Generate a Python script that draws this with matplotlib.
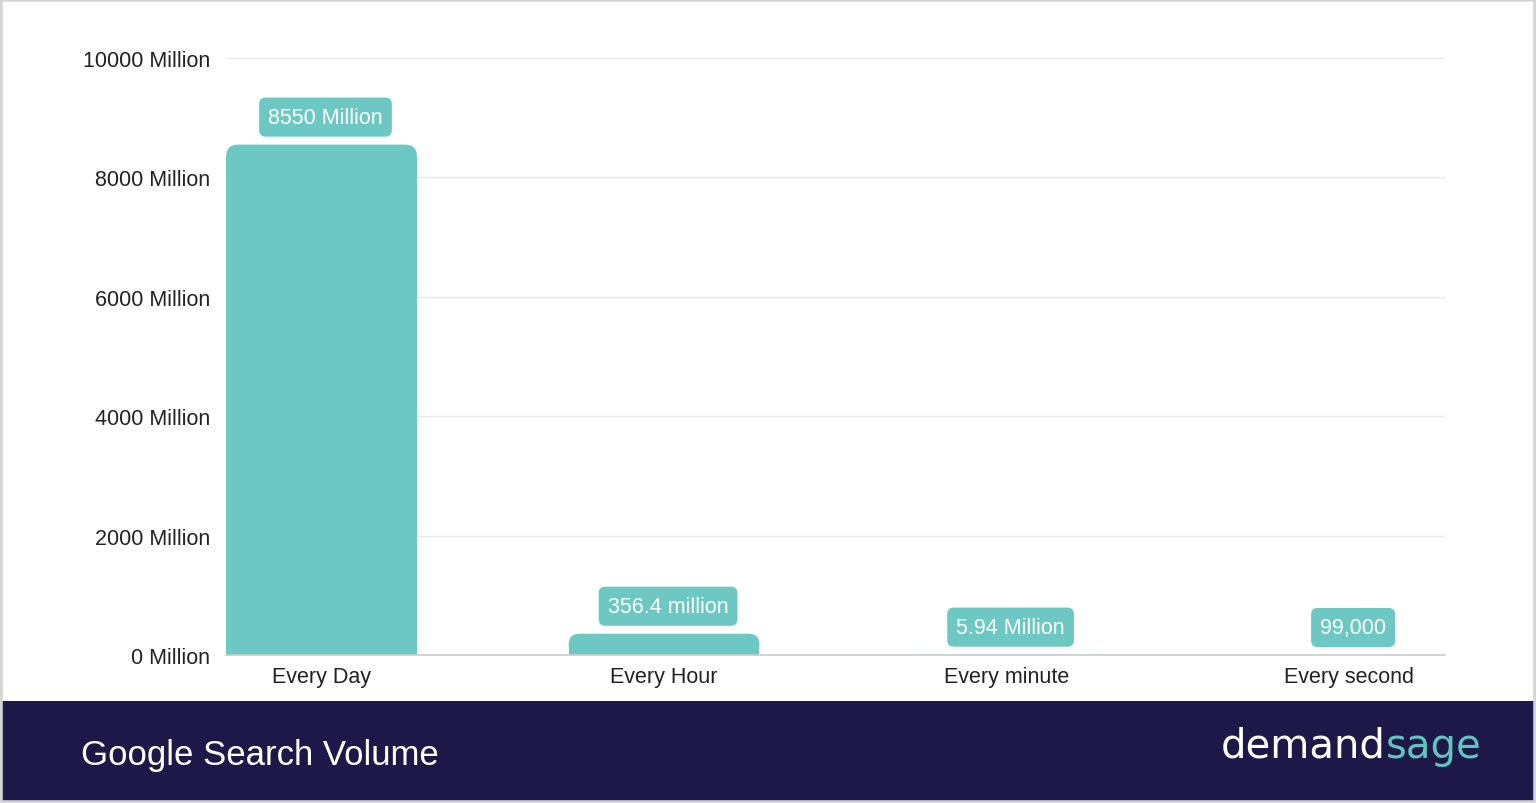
import matplotlib.pyplot as plt
from matplotlib.patches import FancyBboxPatch, Rectangle

plt.rcParams['font.family'] = ['Liberation Sans', 'DejaVu Sans']

categories = ['Every Day', 'Every Hour', 'Every minute', 'Every second']
searches_million = [8550, 356.4, 5.94, 0.099]
value_labels = ['8550 Million', '356.4 million', '5.94 Million', '99,000']
yticks = [0, 2000, 4000, 6000, 8000, 10000]
ytick_labels = [f'{t} Million' for t in yticks]

teal = '#6dc8c3'
navy = '#1e1848'

fig = plt.figure(figsize=(15.36, 8.04), dpi=100)
ax = fig.add_axes([0.1471, 0.1841, 0.7937, 0.7425])

ax.set_xlim(-0.279, 3.28)
ax.set_ylim(0, 10000)

# rounded-top bars, radius given in pixels
bar_w = 0.557
p0 = ax.transData.transform((0, 0))
p1 = ax.transData.transform((1, 1))
px_x = 1 / (p1[0] - p0[0])   # data x per pixel
px_y = 1 / (p1[1] - p0[1])   # data y per pixel
for i, v in enumerate(searches_million):
    h_px = v / px_y
    r_px = min(12, h_px / 2)
    if r_px > 0.05:
        ax.add_patch(FancyBboxPatch((i - bar_w / 2, 0), bar_w, v,
                                    boxstyle=f'round,pad=0,rounding_size={r_px * px_x}',
                                    mutation_aspect=px_y / px_x,
                                    fc=teal, ec='none', zorder=2))
    ax.add_patch(Rectangle((i - bar_w / 2, 0), bar_w, v - r_px * px_y, fc=teal, ec='none',
                           antialiased=False, zorder=2))
    ax.annotate(value_labels[i], (i, v), xytext=(4, 17), textcoords='offset pixels',
                ha='center', va='bottom', fontsize=15.5, color='white', zorder=4,
                bbox=dict(boxstyle='round,pad=0.42,rounding_size=0.3', fc=teal, ec='none'))

ax.set_yticks(yticks)
ax.set_yticklabels(ytick_labels)
ax.set_xticks(range(len(categories)))
ax.set_xticklabels(categories)
ax.tick_params(axis='y', length=0, pad=11.5, labelsize=15.5, labelcolor='#222222')
ax.tick_params(axis='x', length=0, pad=8, labelsize=15.5, labelcolor='#222222')
ax.grid(axis='y', color='#e8e8e8', lw=1, zorder=0)
ax.set_axisbelow(True)
for s in ['top', 'right', 'left']:
    ax.spines[s].set_visible(False)
ax.spines['bottom'].set_color('#cccccc')
ax.spines['bottom'].set_linewidth(1.2)

# footer band
fig.patches.append(Rectangle((2 / 1536, 2 / 804), 1532 / 1536, 100 / 804,
                             transform=fig.transFigure, fc=navy, ec='none', zorder=0))
fig.patches.append(Rectangle((0, 0), 1, 1, transform=fig.transFigure,
                             fill=False, ec='#d4d4d4', lw=4, zorder=5))
fig.text(81 / 1536, 48 / 804, 'Google Search Volume', color='white', fontsize=25,
         ha='left', va='center')
t1 = fig.text(1221 / 1536, 37 / 804, 'demand', color='white', fontsize=29,
              family='DejaVu Sans', ha='left', va='bottom')
fig.canvas.draw()
ext = t1.get_window_extent()
fig.text(ext.x1 / 1536, 37 / 804, 'sage', color='#5ec6c0', fontsize=29,
         family='DejaVu Sans', ha='left', va='bottom')

fig.savefig('out.png', dpi=100)
